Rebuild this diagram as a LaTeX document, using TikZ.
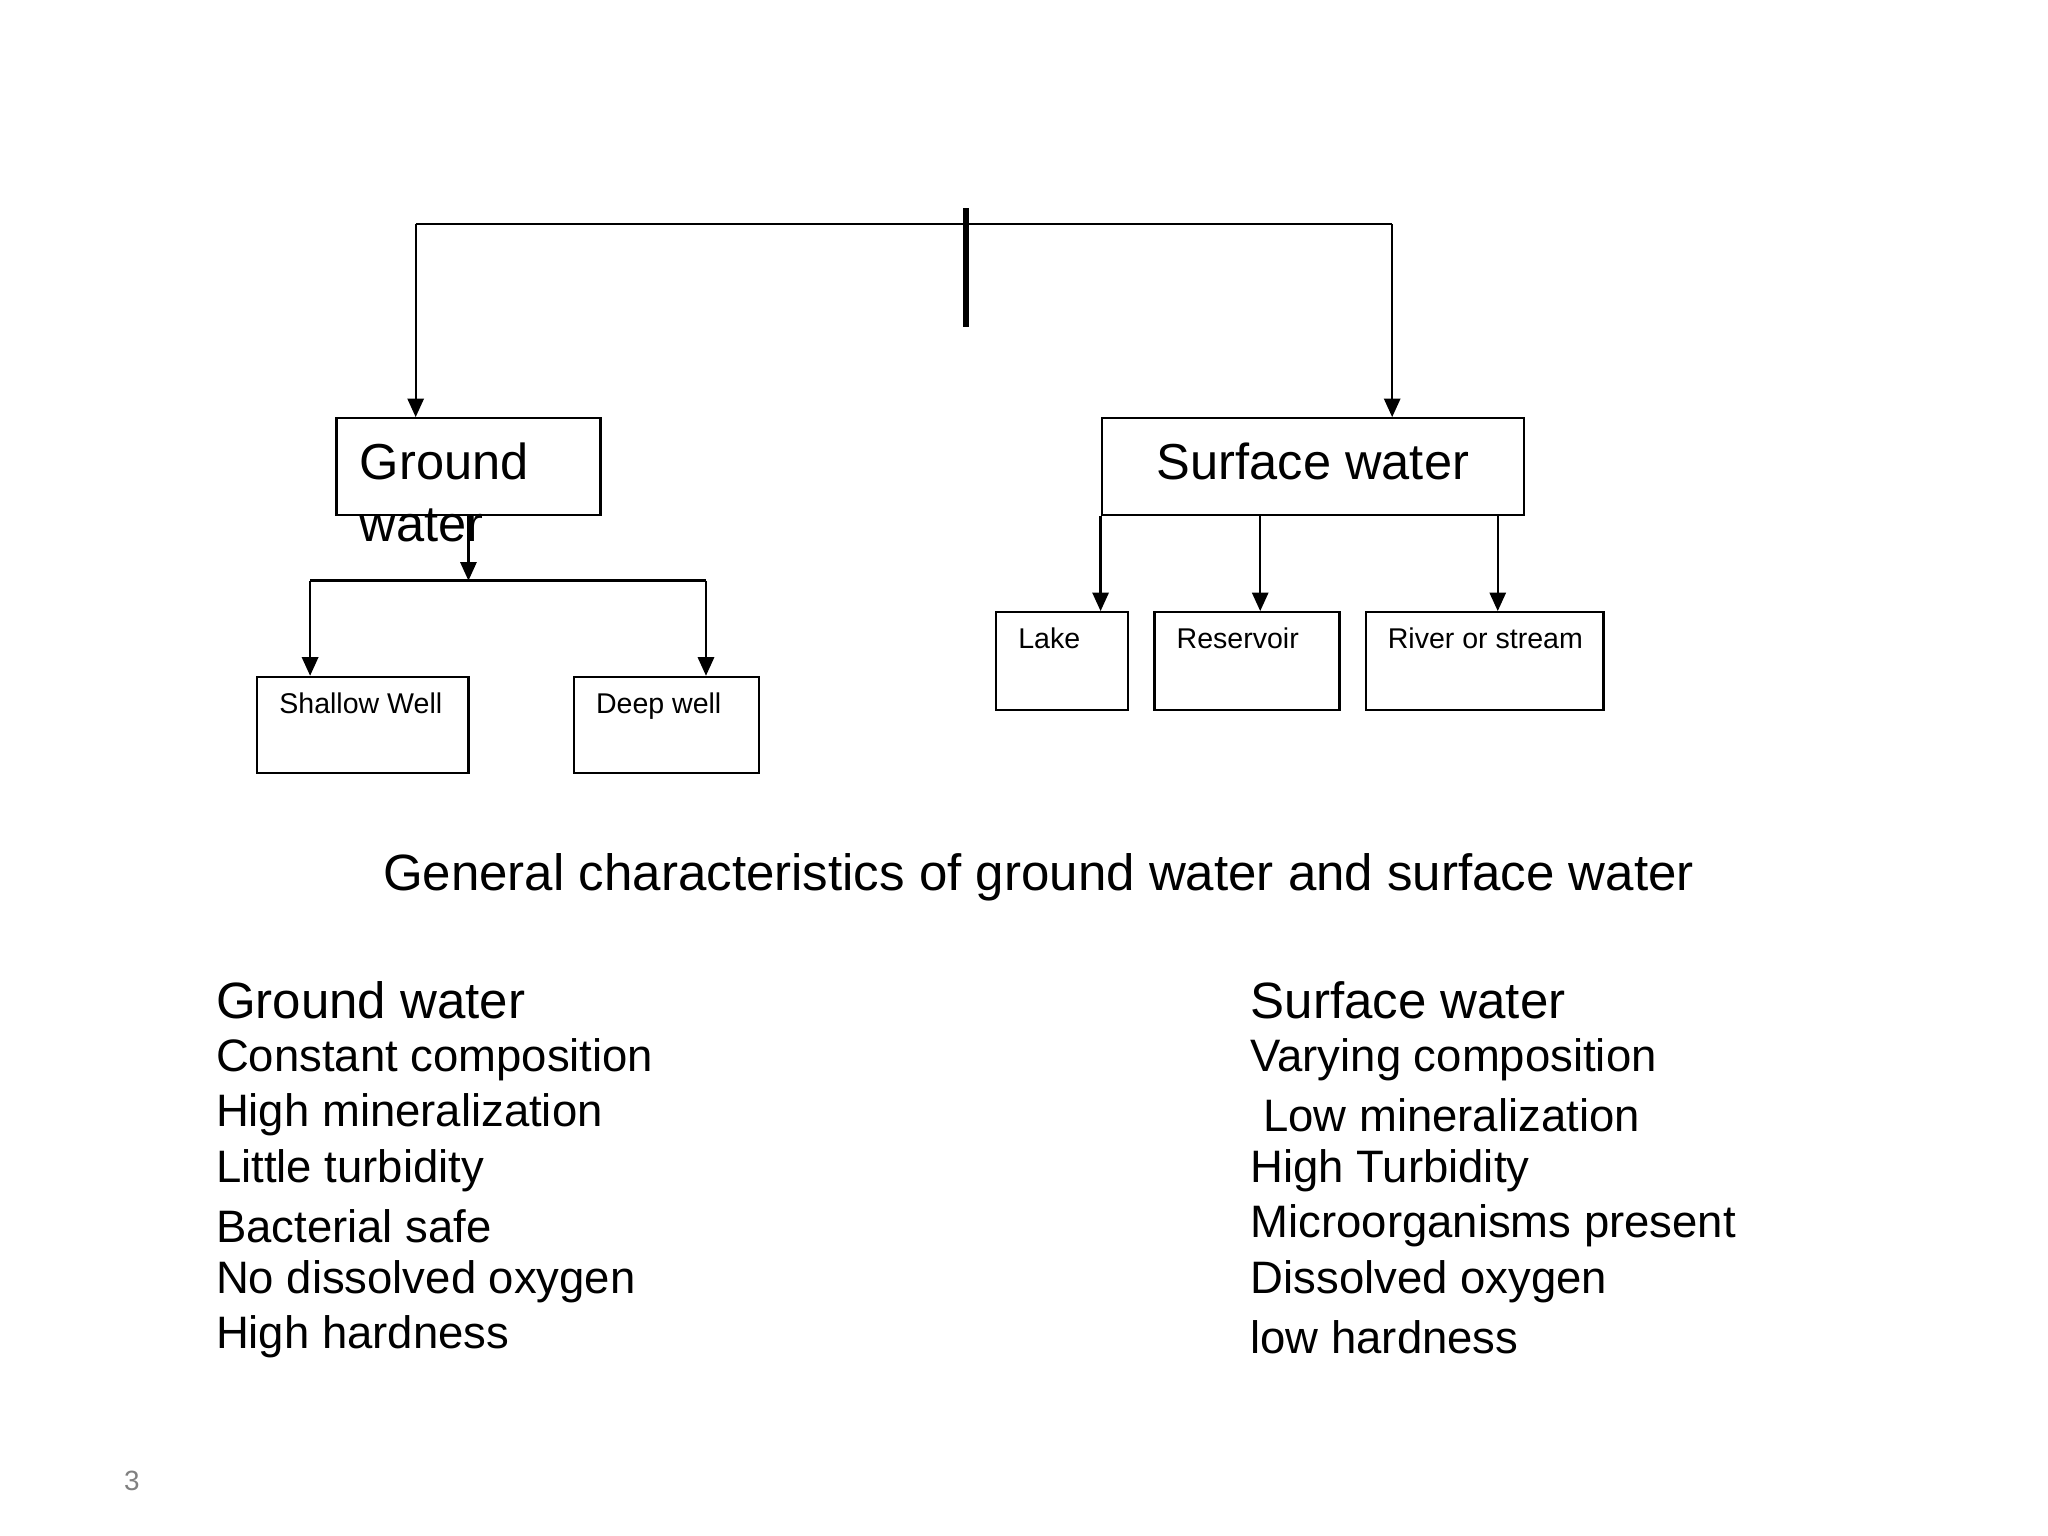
\documentclass[tikz,border=0pt]{standalone}
\usepackage{fontspec}
\setmainfont{Liberation Sans}
\usetikzlibrary{arrows.meta}
\begin{document}
\begin{tikzpicture}[x=0.01cm,y=-0.01cm,
  box/.style={draw,line width=0.5pt,inner sep=0},
  arr/.style={-{Triangle[length=4pt,width=3.5pt]},line width=0.5pt},
  lbl/.style={anchor=north west,inner sep=0,font=\fontsize{6.15}{7}\selectfont},
  big/.style={font=\fontsize{10.9}{13}\selectfont},
  lst/.style={anchor=west,inner sep=0,font=\fontsize{9.8}{11}\selectfont}]
\useasboundingbox (0,0) rectangle (1552,1164);
\draw[line width=1.2pt] (732,158) -- (732,248);
\coordinate (tl) at (315,170); \coordinate (tr) at (1055,170);
\draw[line width=0.5pt] (tl) -- (tr);
\node[box,minimum width=2cm,minimum height=0.73cm] (gw) at (355,353.5) {};
\node[box,minimum width=3.2cm,minimum height=0.73cm] (sw) at (995,353.5) {};
\node[big,anchor=west,inner sep=0] at (272,350) {Ground};
\node[big,anchor=west,inner sep=0] at (272,398) {water};
\node[big,inner sep=0] at (995,350) {Surface water};
\draw[arr] (tl) -- (gw.north west -| tl);
\draw[arr] (tr) -- (sw.north west -| tr);
\node[box,minimum width=1.6cm,minimum height=0.73cm] (sh) at (275,549.5) {};
\node[box,minimum width=1.4cm,minimum height=0.73cm] (dw) at (505,549.5) {};
\node[lbl] at (211,524) {Shallow Well};
\node[lbl] at (451,524) {Deep well};
\coordinate (gj) at (355,440);
\draw[arr] (355,390) -- (gj);
\coordinate (gl) at (235,440); \coordinate (gr) at (535,440);
\draw[line width=0.5pt] (gl) -- (gr);
\draw[arr] (gl) -- (sh.north -| gl);
\draw[arr] (gr) -- (dw.north -| gr);
\node[box,minimum width=1cm,minimum height=0.74cm] (lk) at (805,501) {};
\node[box,minimum width=1.4cm,minimum height=0.74cm] (rv) at (945,501) {};
\node[box,minimum width=1.8cm,minimum height=0.74cm] (rs) at (1125,501) {};
\node[lbl] at (771,475) {Lake};
\node[lbl] at (891,475) {Reservoir};
\node[lbl] at (1051,475) {River or stream};
\coordinate (s2) at (955,390); \coordinate (s3) at (1135,390);
\draw[arr] (sw.south west) -- (sw.south west |- lk.north);
\draw[arr] (s2) -- (s2 |- rv.north);
\draw[arr] (s3) -- (s3 |- rs.north);
\node[font=\fontsize{11}{13}\selectfont,inner sep=0] at (787,665) {General characteristics of ground water and surface water};
\node[lst,font=\fontsize{11}{13}\selectfont] at (163,758) {Ground water};
\node[lst] at (163,803) {Constant composition};
\node[lst] at (163,845) {High mineralization};
\node[lst] at (163,887) {Little turbidity};
\node[lst] at (163,929) {Bacterial safe};
\node[lst] at (163,971) {No dissolved oxygen};
\node[lst] at (163,1013) {High hardness};
\node[lst,font=\fontsize{11}{13}\selectfont] at (947,758) {Surface water};
\node[lst] at (947,803) {Varying composition};
\node[lst] at (947,845) {\ Low mineralization};
\node[lst] at (947,887) {High Turbidity};
\node[lst] at (947,929) {Microorganisms present};
\node[lst] at (947,971) {Dissolved oxygen};
\node[lst] at (947,1013) {low hardness};
\node[font=\fontsize{6}{7}\selectfont,text=gray,inner sep=0] at (100,1122) {3};
\end{tikzpicture}
\end{document}
